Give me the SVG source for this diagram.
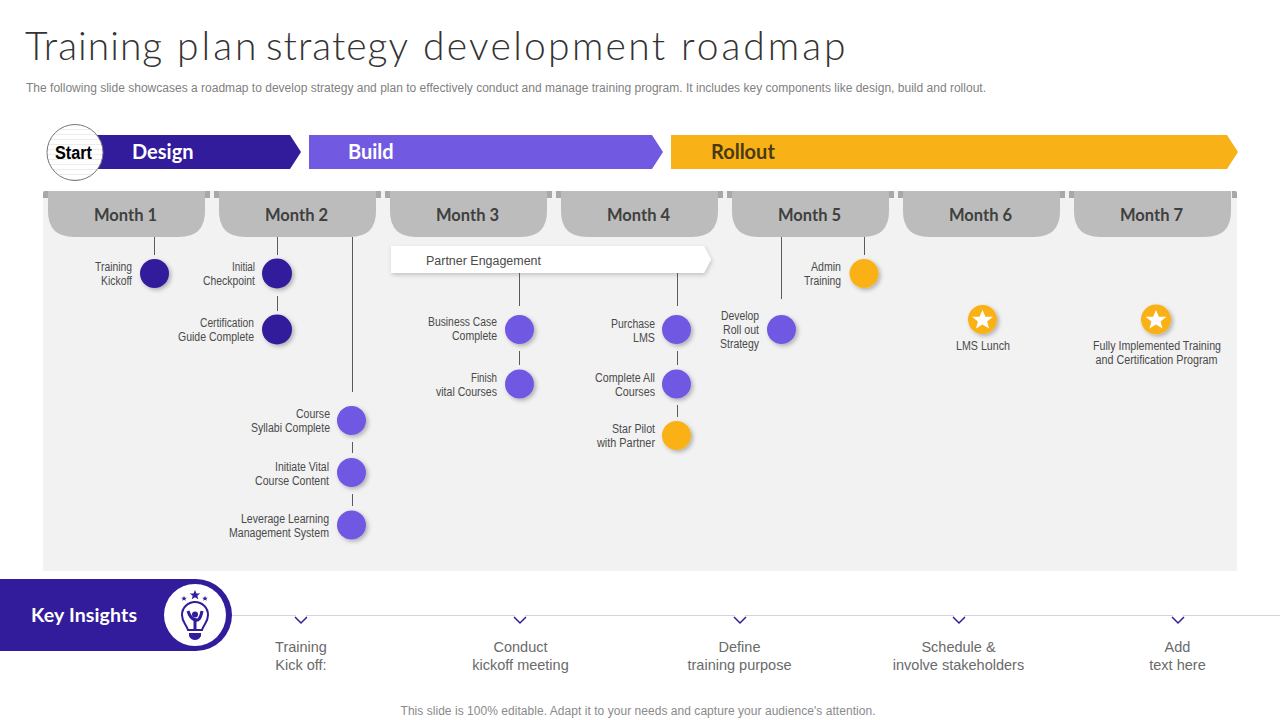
<svg xmlns="http://www.w3.org/2000/svg" width="1280" height="720" viewBox="0 0 1280 720">
<style>
.t{font-family:"Liberation Sans",Arial,sans-serif;font-size:12px;fill:#4a4a4a}
.r{text-anchor:end}.m{text-anchor:middle}
.h{font-family:"Lato","Open Sans",sans-serif;font-weight:700;font-size:20px;fill:#fff}
.mo{font-family:"Lato","Open Sans",sans-serif;font-weight:700;font-size:16.500px;fill:#404040;text-anchor:middle}
.b{font-family:"Liberation Sans",Arial,sans-serif;font-size:14.500px;fill:#6a6a6a;text-anchor:middle}
.c{stroke:#5a5a5a;stroke-width:1;fill:none}
.tab{fill:#bcbcbc}.nub{fill:#a8a8a8}
.navy{fill:#321c9b}.vio{fill:#7159e2}.amb{fill:#f9b118}
.chev{fill:none;stroke:#321c9b;stroke-width:1.500}
</style>
<defs>
<filter id="s" x="-40%" y="-40%" width="190%" height="190%"><feDropShadow dx="2" dy="2" stdDeviation="2" flood-color="#000" flood-opacity=".28"/></filter>
<filter id="s2" x="-5%" y="-30%" width="110%" height="170%"><feDropShadow dx="1" dy="2" stdDeviation="2" flood-color="#000" flood-opacity=".2"/></filter>
<pattern id="hatch" width="6" height="5" patternUnits="userSpaceOnUse"><rect width="6" height="5" fill="#fff"/><path d="M0 4.500H6" stroke="#ececec"/></pattern>
<path id="star" d="M0-10 2.900-3.200 10.500-3.200 4.600 1.400 6.500 8.600 0 4.600-6.500 8.600-4.600 1.400-10.500-3.200-2.900-3.200Z"/>
<path id="tabp" d="M0 0H157V16Q157 42 131 42H26Q0 42 0 16Z"/>
</defs>

<g id="title">
<text y="60" font-family="Lato,'Open Sans',sans-serif" font-weight="300" font-size="39" fill="#333"><tspan x="25" letter-spacing="1">Training</tspan><tspan x="177" letter-spacing="3">plan</tspan><tspan x="266" letter-spacing="1">strategy</tspan><tspan x="423" letter-spacing="2.300">development</tspan><tspan x="681" letter-spacing="3">roadmap</tspan></text>
<text x="26" y="92" class="t" style="fill:#7f7f7f" textLength="960" lengthAdjust="spacingAndGlyphs">The following slide showcases a roadmap to develop strategy and plan to effectively conduct and manage training program. It includes key components like design, build and rollout.</text>
</g>

<rect id="panel" x="43" y="191" width="1194" height="380" fill="#f2f2f2"/>

<g id="phases">
<g id="phase-design"><path class="navy" d="M90 135H290L301 152 290 169H90Z"/><text x="132" y="159" class="h">Design</text></g>
<g id="phase-build"><path class="vio" d="M309 135H652L663 152 652 169H309Z"/><text x="348" y="159" class="h">Build</text></g>
<g id="phase-rollout"><path class="amb" d="M671 135H1227L1238 152 1227 169H671Z"/><text x="711" y="159" class="h" style="fill:#4a3a10">Rollout</text></g>
<g id="start"><circle cx="75" cy="152.500" r="28" fill="url(#hatch)" stroke="#777"/><text x="73.500" y="159" font-family="'Liberation Sans',Arial,sans-serif" font-weight="700" font-size="18" fill="#000" text-anchor="middle" textLength="37" lengthAdjust="spacingAndGlyphs">Start</text></g>
</g>

<g id="months">
<g id="month-1"><path class="nub" d="M43 193q0-2 2-2h3v7h-5ZM205 191h5v7h-5Z"/><use href="#tabp" x="48" y="195" class="tab"/><path class="tab" d="M48 191H205V196H48Z"/><text x="125.500" y="221" class="mo">Month 1</text></g>
<g id="month-2"><path class="nub" d="M214 191h5v7h-5ZM376 191h5v7h-5Z"/><use href="#tabp" x="219" y="195" class="tab"/><path class="tab" d="M219 191H376V196H219Z"/><text x="296.500" y="221" class="mo">Month 2</text></g>
<g id="month-3"><path class="nub" d="M385 191h5v7h-5ZM547 191h5v7h-5Z"/><use href="#tabp" x="390" y="195" class="tab"/><path class="tab" d="M390 191H547V196H390Z"/><text x="467.500" y="221" class="mo">Month 3</text></g>
<g id="month-4"><path class="nub" d="M556 191h5v7h-5ZM718 191h5v7h-5Z"/><use href="#tabp" x="561" y="195" class="tab"/><path class="tab" d="M561 191H718V196H561Z"/><text x="638.500" y="221" class="mo">Month 4</text></g>
<g id="month-5"><path class="nub" d="M727 191h5v7h-5ZM889 191h5v7h-5Z"/><use href="#tabp" x="732" y="195" class="tab"/><path class="tab" d="M732 191H889V196H732Z"/><text x="809.500" y="221" class="mo">Month 5</text></g>
<g id="month-6"><path class="nub" d="M898 191h5v7h-5ZM1060 191h5v7h-5Z"/><use href="#tabp" x="903" y="195" class="tab"/><path class="tab" d="M903 191H1060V196H903Z"/><text x="980.500" y="221" class="mo">Month 6</text></g>
<g id="month-7"><path class="nub" d="M1069 191h5v7h-5ZM1232 191h3q2 0 2 2v5h-5Z"/><use href="#tabp" x="1074" y="195" class="tab"/><path class="tab" d="M1074 191H1231V196H1074Z"/><text x="1151.500" y="221" class="mo">Month 7</text></g>
</g>

<g id="banner"><path d="M391 246H704L711 259.500 704 273H391Z" fill="#fff" filter="url(#s2)"/><text x="426" y="265" class="t" textLength="115" lengthAdjust="spacingAndGlyphs">Partner Engagement</text></g>

<g id="connectors">
<path class="c" d="M154.500 237V255M277.500 237V255M277.500 296V311M352.500 237V392M352.500 442V453M352.500 494V506M519.500 273V306M519.500 351V365M677.500 273V306M677.500 351V365M677.500 405V417M781.500 237V299M864.500 237V255"/>
<path d="M232 615.500H1280" stroke="#d4d4dc" stroke-width="1"/>
</g>

<g id="milestones">
<g id="n1"><circle class="navy" cx="154.500" cy="273.500" r="14.500" filter="url(#s)"/><text x="132" y="271" class="t r" textLength="37" lengthAdjust="spacingAndGlyphs">Training</text><text x="132" y="285" class="t r" textLength="31" lengthAdjust="spacingAndGlyphs">Kickoff</text></g>
<g id="n2"><circle class="navy" cx="277" cy="273.500" r="15" filter="url(#s)"/><text x="255" y="271" class="t r" textLength="23" lengthAdjust="spacingAndGlyphs">Initial</text><text x="255" y="285" class="t r" textLength="52" lengthAdjust="spacingAndGlyphs">Checkpoint</text></g>
<g id="n3"><circle class="navy" cx="277" cy="329.500" r="15" filter="url(#s)"/><text x="254" y="327" class="t r" textLength="54" lengthAdjust="spacingAndGlyphs">Certification</text><text x="254" y="341" class="t r" textLength="76" lengthAdjust="spacingAndGlyphs">Guide Complete</text></g>
<g id="n4"><circle class="vio" cx="351.500" cy="420.500" r="14.500" filter="url(#s)"/><text x="330" y="418" class="t r" textLength="34" lengthAdjust="spacingAndGlyphs">Course</text><text x="330" y="432" class="t r" textLength="79" lengthAdjust="spacingAndGlyphs">Syllabi Complete</text></g>
<g id="n5"><circle class="vio" cx="351.500" cy="472.500" r="14.500" filter="url(#s)"/><text x="329" y="471" class="t r" textLength="54" lengthAdjust="spacingAndGlyphs">Initiate Vital</text><text x="329" y="485" class="t r" textLength="74" lengthAdjust="spacingAndGlyphs">Course Content</text></g>
<g id="n6"><circle class="vio" cx="351.500" cy="525" r="14.500" filter="url(#s)"/><text x="329" y="523" class="t r" textLength="88" lengthAdjust="spacingAndGlyphs">Leverage Learning</text><text x="329" y="537" class="t r" textLength="100" lengthAdjust="spacingAndGlyphs">Management System</text></g>
<g id="n7"><circle class="vio" cx="519.500" cy="329.500" r="14.500" filter="url(#s)"/><text x="497" y="326" class="t r" textLength="69" lengthAdjust="spacingAndGlyphs">Business Case</text><text x="497" y="340" class="t r" textLength="45" lengthAdjust="spacingAndGlyphs">Complete</text></g>
<g id="n8"><circle class="vio" cx="519.500" cy="384" r="14.500" filter="url(#s)"/><text x="497" y="382" class="t r" textLength="26" lengthAdjust="spacingAndGlyphs">Finish</text><text x="497" y="396" class="t r" textLength="61" lengthAdjust="spacingAndGlyphs">vital Courses</text></g>
<g id="n9"><circle class="vio" cx="676.500" cy="329.500" r="14.500" filter="url(#s)"/><text x="655" y="328" class="t r" textLength="44" lengthAdjust="spacingAndGlyphs">Purchase</text><text x="655" y="342" class="t r" textLength="22" lengthAdjust="spacingAndGlyphs">LMS</text></g>
<g id="n10"><circle class="vio" cx="676.500" cy="384" r="14.500" filter="url(#s)"/><text x="655" y="382" class="t r" textLength="60" lengthAdjust="spacingAndGlyphs">Complete All</text><text x="655" y="396" class="t r" textLength="40" lengthAdjust="spacingAndGlyphs">Courses</text></g>
<g id="n11"><circle class="amb" cx="676.500" cy="435.500" r="14.500" filter="url(#s)"/><text x="655" y="433" class="t r" textLength="43" lengthAdjust="spacingAndGlyphs">Star Pilot</text><text x="655" y="447" class="t r" textLength="58" lengthAdjust="spacingAndGlyphs">with Partner</text></g>
<g id="n12"><circle class="vio" cx="781.500" cy="329.500" r="14.500" filter="url(#s)"/><text x="759" y="320" class="t r" textLength="38" lengthAdjust="spacingAndGlyphs">Develop</text><text x="759" y="334" class="t r" textLength="36" lengthAdjust="spacingAndGlyphs">Roll out</text><text x="759" y="348" class="t r" textLength="39" lengthAdjust="spacingAndGlyphs">Strategy</text></g>
<g id="n13"><circle class="amb" cx="864" cy="273.500" r="14.500" filter="url(#s)"/><text x="841" y="271" class="t r" textLength="30" lengthAdjust="spacingAndGlyphs">Admin</text><text x="841" y="285" class="t r" textLength="37" lengthAdjust="spacingAndGlyphs">Training</text></g>
<g id="n14"><circle class="amb" cx="982.500" cy="319.500" r="14.500" filter="url(#s)"/><use href="#star" x="982.500" y="320" fill="#fff"/><text x="983" y="350" class="t m" textLength="54" lengthAdjust="spacingAndGlyphs">LMS Lunch</text></g>
<g id="n15"><circle class="amb" cx="1156" cy="319.500" r="15" filter="url(#s)"/><use href="#star" x="1156" y="320" fill="#fff"/><text x="1157" y="350" class="t m" textLength="128" lengthAdjust="spacingAndGlyphs">Fully Implemented Training</text><text x="1156.500" y="364" class="t m" textLength="122" lengthAdjust="spacingAndGlyphs">and Certification Program</text></g>
</g>

<g id="key-insights">
<path class="navy" d="M0 579H196A36 36 0 0 1 196 651H0Z"/>
<circle cx="195" cy="615" r="31" fill="#fff"/>
<text x="31" y="622" font-family="Lato,'Open Sans',sans-serif" font-weight="700" font-size="19.500" fill="#fff" textLength="106" lengthAdjust="spacing">Key Insights</text>
<use href="#star" transform="translate(195 595) scale(.5)" class="navy"/>
<use href="#star" transform="translate(184 598.500) scale(.27)" class="navy"/>
<use href="#star" transform="translate(205 598.500) scale(.27)" class="navy"/>
<path d="M188 630C186 624 182 622 182 615A13 13 0 0 1 208 615C208 622 204 624 202 630Z" fill="none" stroke="#321c9b" stroke-width="2"/>
<path class="navy" d="M189 633H201V636Q199 640 195 640T189 636Z"/>
<circle class="navy" cx="195" cy="614.500" r="3"/>
<path d="M188 611Q190 618 195 620T202 611M195 618V630" fill="none" stroke="#321c9b" stroke-width="3"/>
</g>

<g id="insights">
<g id="i1"><path d="M301 611L307 616.500 301 622 295 616.500Z" fill="#fff"/><path class="chev" d="M295 617L301 623 307 617"/><text x="301" y="652" class="b">Training</text><text x="301" y="670" class="b">Kick off:</text></g>
<g id="i2"><path d="M520 611L526 616.500 520 622 514 616.500Z" fill="#fff"/><path class="chev" d="M514 617L520 623 526 617"/><text x="520.500" y="652" class="b">Conduct</text><text x="520.500" y="670" class="b">kickoff meeting</text></g>
<g id="i3"><path d="M740 611L746 616.500 740 622 734 616.500Z" fill="#fff"/><path class="chev" d="M734 617L740 623 746 617"/><text x="739.500" y="652" class="b">Define</text><text x="739.500" y="670" class="b">training purpose</text></g>
<g id="i4"><path d="M959 611L965 616.500 959 622 953 616.500Z" fill="#fff"/><path class="chev" d="M953 617L959 623 965 617"/><text x="958.500" y="652" class="b">Schedule &amp;</text><text x="958.500" y="670" class="b">involve stakeholders</text></g>
<g id="i5"><path d="M1178 611L1184 616.500 1178 622 1172 616.500Z" fill="#fff"/><path class="chev" d="M1172 617L1178 623 1184 617"/><text x="1177.500" y="652" class="b">Add</text><text x="1177.500" y="670" class="b">text here</text></g>
</g>

<text id="footer" x="638" y="715" font-family="'Liberation Sans',Arial,sans-serif" font-size="12" fill="#8a8a8a" text-anchor="middle" textLength="475" lengthAdjust="spacing">This slide is 100% editable. Adapt it to your needs and capture your audience's attention.</text>
</svg>
